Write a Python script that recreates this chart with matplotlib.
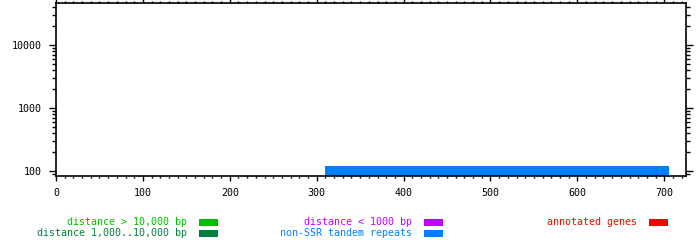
import numpy as np
import matplotlib.pyplot as plt
from matplotlib.patches import Rectangle
from matplotlib.ticker import FixedLocator, NullFormatter

# data
seg_start = [310]
seg_end = [705]
seg_value = [120]
seg_colors = ['#0080ff']

legend_labels = ['distance > 10,000 bp', 'distance 1,000..10,000 bp',
                 'distance < 1000 bp', 'non-SSR tandem repeats',
                 'annotated genes']
legend_colors = ['#00c000', '#008040', '#c000ff', '#0080ff', '#ff0000']
legend_col = [0, 0, 1, 1, 2]
legend_row = [0, 1, 0, 1, 0]

xticks = [0, 100, 200, 300, 400, 500, 600, 700]
yticks = [100, 1000, 10000]

plt.rcParams['font.family'] = 'DejaVu Sans Mono'
fs = 7.2

fig = plt.figure(figsize=(7, 2.4), dpi=100)
ax = fig.add_axes([56/700, 1-176/240, 630/700, 173/240])

widths = np.array(seg_end) - np.array(seg_start)
ax.bar(seg_start, np.array(seg_value) - 1, width=widths, bottom=1,
       align='edge', color=seg_colors, linewidth=0)

ax.set_yscale('log')
ax.set_xlim(0, 725)
ax.set_ylim(83, 46400)

ax.set_xticks(xticks)
ax.set_xticklabels([str(t) for t in xticks], fontsize=fs)
ax.xaxis.set_minor_locator(FixedLocator(np.arange(0, 726, 10)))
ax.set_yticks(yticks)
ax.set_yticklabels([str(t) for t in yticks], fontsize=fs)
ax.yaxis.set_minor_formatter(NullFormatter())

ax.tick_params(which='both', direction='out', top=True, right=True,
               width=1, color='black')
ax.tick_params(axis='x', which='major', length=3.6, pad=5)
ax.tick_params(axis='x', which='minor', length=1.5)
ax.tick_params(axis='y', which='major', length=5, pad=5.5)
ax.tick_params(axis='y', which='minor', length=3)
for s in ax.spines.values():
    s.set_linewidth(1.2)

col_text_x = [187, 412, 637]
col_box_x = [199, 424, 649]
row_y = [222, 233]
for lab, c, ci, ri in zip(legend_labels, legend_colors, legend_col, legend_row):
    fig.text(col_text_x[ci]/700, 1-row_y[ri]/240, lab, color=c, fontsize=fs,
             ha='right', va='center')
    fig.patches.append(Rectangle((col_box_x[ci]/700, 1-(row_y[ri]+4)/240),
                                 19/700, 7/240, transform=fig.transFigure,
                                 color=c, linewidth=0))

fig.savefig('out.png', dpi=100)
